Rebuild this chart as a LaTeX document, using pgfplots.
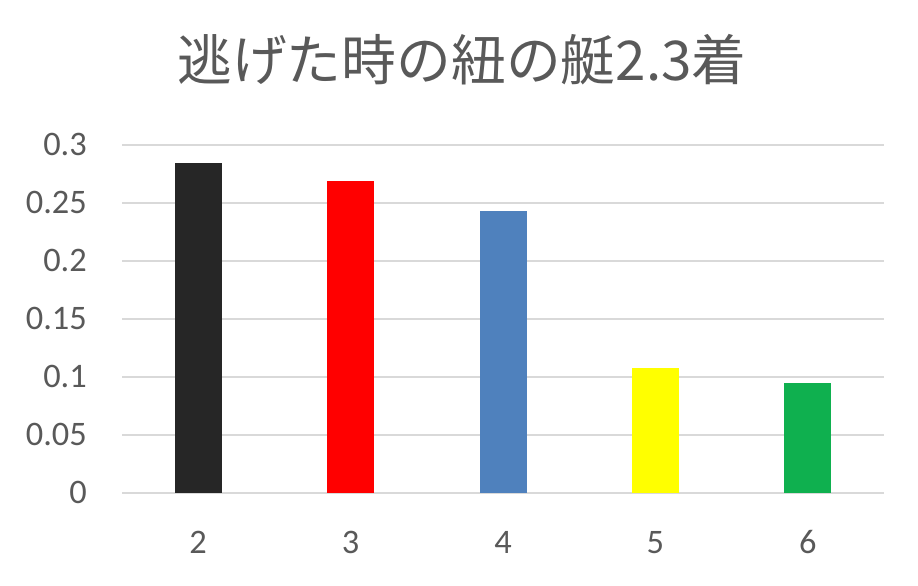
\documentclass[border=0pt]{standalone}
\usepackage{fontspec}
\usepackage{pgfplots}
\pgfplotsset{compat=1.18}
\newfontfamily\cjk{Noto Sans CJK JP}
\newfontfamily\carlito{Carlito}
\definecolor{txt}{HTML}{595959}
\definecolor{gridc}{HTML}{D9D9D9}
\definecolor{c2}{HTML}{262626}
\definecolor{c3}{HTML}{FF0000}
\definecolor{c4}{HTML}{4F81BD}
\definecolor{c5}{HTML}{FFFF00}
\definecolor{c6}{HTML}{0FB04F}
\begin{document}
\begin{tikzpicture}
\useasboundingbox (0,0) rectangle (918bp,586bp);
\fill[white] (0,0) rectangle (918bp,586bp);
\begin{axis}[
  at={(122bp,93bp)}, anchor=south west,
  scale only axis, width=762bp, height=348bp,
  xmin=1.5, xmax=6.5, ymin=0, ymax=0.3,
  axis line style={draw=none},
  ybar, bar width=47bp,
  xtick={2,3,4,5,6}, xticklabels={2,3,4,5,6},
  ytick={0,0.05,0.1,0.15,0.2,0.25,0.3},
  yticklabels={0,0.05,0.1,0.15,0.2,0.25,0.3},
  major tick length=0pt,
  ymajorgrids, grid style={draw=gridc, line width=2bp},
  ticklabel style={font=\carlito\fontsize{34.5}{34.5}\selectfont, text=txt, inner sep=0pt},
  yticklabel style={anchor=base east, xshift=-35bp, yshift=-11bp},
  xticklabel style={anchor=base, yshift=-60bp},
  clip=false,
]
\addplot[fill=c2, draw=none, bar shift=0pt] coordinates {(2,0.2845)};
\addplot[fill=c3, draw=none, bar shift=0pt] coordinates {(3,0.269)};
\addplot[fill=c4, draw=none, bar shift=0pt] coordinates {(4,0.2428)};
\addplot[fill=c5, draw=none, bar shift=0pt] coordinates {(5,0.108)};
\addplot[fill=c6, draw=none, bar shift=0pt] coordinates {(6,0.095)};
\end{axis}
\node[text=txt, font=\cjk\fontsize{55}{55}\selectfont, inner sep=0pt] at (462bp,526bp) {逃げた時の紐の艇2.3着};
\end{tikzpicture}
\end{document}
